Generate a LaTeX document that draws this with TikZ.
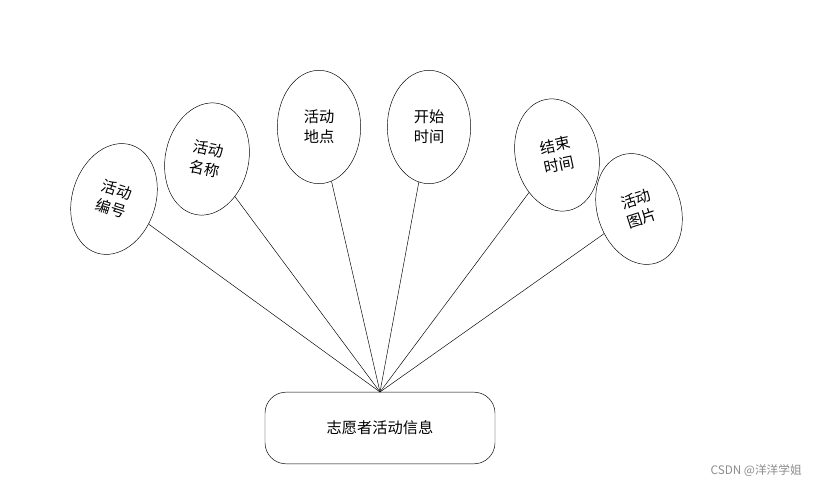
\documentclass[tikz,border=0pt]{standalone}
\usepackage{fontspec}
\usetikzlibrary{shapes.geometric,positioning}
\newfontfamily\cjk{Noto Sans CJK SC}
\tikzstyle{attrbox} = [ellipse, draw=black, fill=white, minimum width=2.5cm, minimum height=3.4cm, align=center, inner sep=0pt, font=\cjk\fontsize{13}{17}\selectfont]
\tikzstyle{entitybox} = [rectangle, rounded corners=18pt, draw=black, minimum width=6.9cm, minimum height=2.15cm, font=\cjk\fontsize{13}{17}\selectfont]
\tikzstyle{link} = [thin, black]
\begin{document}
\begin{tikzpicture}[x=0.03cm, y=-0.03cm]
\useasboundingbox (0,0) rectangle (821,489);

% Entity
\node[entitybox] (info) at (380,428) {志愿者活动信息};
\coordinate (apex) at (380,392);

% Attributes
\node[attrbox, rotate=-18] (a1) at (114,199) {活动\\编号};
\node[attrbox, rotate=-12] (a2) at (207,159) {活动\\名称};
\node[attrbox] (a3) at (319,127) {活动\\地点};
\node[attrbox] (a4) at (429,127) {开始\\时间};
\node[attrbox, rotate=12] (a5) at (557,155) {结束\\时间};
\node[attrbox, rotate=18] (a6) at (639,209) {活动\\图片};

% Links
\foreach \n in {a1,a2,a3,a4,a5,a6}
  \draw[link] (apex) -- (\n);

% Watermark
\node[font=\cjk\fontsize{10}{12}\selectfont, text=black!45, anchor=east] (mark) at (806,471) {CSDN @洋洋学姐};
\end{tikzpicture}
\end{document}
